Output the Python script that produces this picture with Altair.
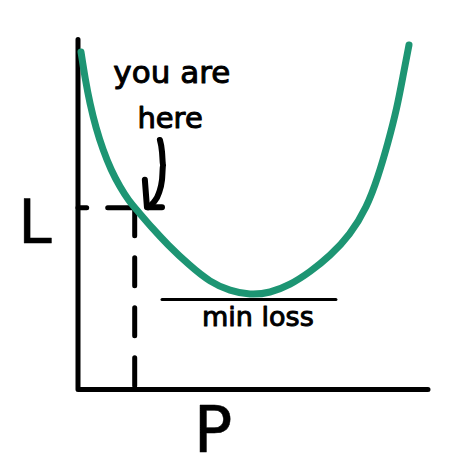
import altair as alt
import pandas as pd

# Loss curve (P vs L)
curve_p = [0.86, 2.0, 3.43, 5.14, 7.14, 9.43, 12.0, 14.57, 16.57, 21.43, 25.43, 32.0, 37.71, 43.43, 49.14,
           54.86, 60.57, 66.29, 72.0, 77.71, 82.57, 85.71, 88.57, 91.14, 92.86, 94.57]
curve_l = [96.43, 89.0, 81.57, 74.71, 68.43, 62.71, 57.86, 53.86, 51.57, 45.86, 41.57, 35.29, 30.71, 28.14, 27.0,
           27.57, 29.86, 33.57, 38.14, 44.14, 52.14, 60.71, 70.43, 80.43, 89.57, 98.43]

# Axes (L-shaped frame)
axis_p = [0, 0, 100]
axis_l = [100, 0, 0]

# "You are here" point
here_p = 16.2
here_l = 51.9

# min loss level
min_l = 25.7
min_p_start = 24.0
min_p_end = 73.7

# Arrow shaft and head
arrow_p = [23.4, 24.0, 24.3, 24.0, 23.1, 21.7, 20.0]
arrow_l = [71.3, 67.9, 64.1, 59.9, 56.1, 53.6, 52.1]
head_p = [19.1, 19.7, 24.0]
head_l = [59.9, 52.1, 52.1]

# Text labels
note_lines = ["you are", "here"]
note_p = [26.8, 26.3]
note_l = [87.6, 74.7]
min_label = "min loss"
min_label_p = 51.4
min_label_l = 18.1
axis_titles = ["L", "P"]
axis_title_p = [-12.3, 38.6]
axis_title_l = [41.9, -21.5]

xs = alt.Scale(domain=[-20, 110])
ys = alt.Scale(domain=[-21.857, 109])
X = lambda f: alt.X(f, type="quantitative", scale=xs, axis=None)
Y = lambda f: alt.Y(f, type="quantitative", scale=ys, axis=None)

curve_df = pd.DataFrame({"p": curve_p, "l": curve_l})
axis_df = pd.DataFrame({"p": axis_p, "l": axis_l, "o": range(len(axis_p))})
arrow_df = pd.DataFrame({"p": arrow_p, "l": arrow_l, "o": range(len(arrow_p))})
head_df = pd.DataFrame({"p": head_p, "l": head_l, "o": range(len(head_p))})
hdash_df = pd.DataFrame({"p": [here_p], "p2": [0], "l": [here_l]})
vdash_df = pd.DataFrame({"p": [here_p], "l": [here_l], "l2": [0]})
min_df = pd.DataFrame({"p": [min_p_start], "p2": [min_p_end], "l": [min_l]})
note1_df = pd.DataFrame({"t": [note_lines[0]], "p": [note_p[0]], "l": [note_l[0]]})
note2_df = pd.DataFrame({"t": [note_lines[1]], "p": [note_p[1]], "l": [note_l[1]]})
minlab_df = pd.DataFrame({"t": [min_label], "p": [min_label_p], "l": [min_label_l]})
ttl_l_df = pd.DataFrame({"t": [axis_titles[0]], "p": [axis_title_p[0]], "l": [axis_title_l[0]]})
ttl_p_df = pd.DataFrame({"t": [axis_titles[1]], "p": [axis_title_p[1]], "l": [axis_title_l[1]]})

axes = alt.Chart(axis_df).mark_line(color="black", strokeWidth=5, strokeCap="round", strokeJoin="round").encode(
    x=X("p"), y=Y("l"), order="o:Q")

curve = alt.Chart(curve_df).mark_line(color="#1d9573", strokeWidth=7, strokeCap="round", interpolate="basis").encode(
    x=X("p"), y=Y("l"))

hdash = alt.Chart(hdash_df).mark_rule(color="black", strokeWidth=5, strokeCap="round", strokeDash=[27, 21]).encode(
    x=X("p"), x2="p2", y=Y("l"))
vdash = alt.Chart(vdash_df).mark_rule(color="black", strokeWidth=5, strokeCap="round", strokeDash=[28, 22]).encode(
    x=X("p"), y=Y("l"), y2="l2")

minline = alt.Chart(min_df).mark_rule(color="black", strokeWidth=3, strokeCap="round").encode(
    x=X("p"), x2="p2", y=Y("l"))

arrow = alt.Chart(arrow_df).mark_line(color="black", strokeWidth=6, strokeCap="round", strokeJoin="round", interpolate="monotone").encode(
    x=X("p"), y=Y("l"), order="o:Q")
head = alt.Chart(head_df).mark_line(color="black", strokeWidth=6, strokeCap="round", strokeJoin="round").encode(
    x=X("p"), y=Y("l"), order="o:Q")

def text_layer(df, size, baseline="alphabetic", sw=1.0):
    return alt.Chart(df).mark_text(font="DejaVu Sans", fontSize=size, color="black", stroke="black",
                                   strokeWidth=sw, strokeJoin="round", baseline=baseline, align="center").encode(
        x=X("p"), y=Y("l"), text="t:N")

note1 = text_layer(note1_df, 31)
note2 = text_layer(note2_df, 29)
minlab = text_layer(minlab_df, 27)
title_l = text_layer(ttl_l_df, 60, sw=0.5)
title_p = text_layer(ttl_p_df, 64, "bottom", sw=0.5)

chart = alt.layer(axes, hdash, vdash, minline, curve, arrow, head, note1, note2, minlab, title_l, title_p).properties(
    width=455, height=458, padding=0, background="white"
).configure_view(stroke=None)

chart.save("out.html", embed_options={"renderer": "svg", "actions": False})
